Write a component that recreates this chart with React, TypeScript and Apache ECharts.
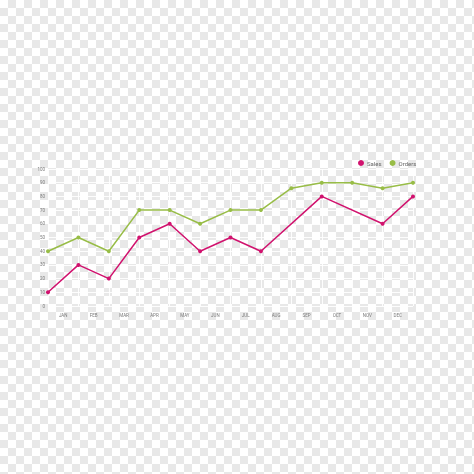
import React, { useEffect, useRef } from 'react';
import * as echarts from 'echarts';

const MONTHS = ['JAN', 'FEB', 'MAR', 'APR', 'MAY', 'JUN', 'JUL', 'AUG', 'SEP', 'OCT', 'NOV', 'DEC'];
// points sit on the month boundaries, labels sit in the months
const POINTS = ['Jan 1', 'Feb 1', 'Mar 1', 'Apr 1', 'May 1', 'Jun 1', 'Jul 1', 'Aug 1', 'Sep 1', 'Oct 1', 'Nov 1', 'Dec 1', 'Dec 31'];
const SALES = [10, 30, 20, 50, 60, 40, 50, 40, null, 80, null, 60, 80];
const ORDERS = [40, 50, 40, 70, 70, 60, 70, 70, 86, 90, 90, 86, 90];

const PINK = '#d1126e';
const GREEN = '#98bd47';
const TEXT = '#7a7a7a';
const GRID_LINE = 'rgba(255,255,255,0.9)';

const App = (): JSX.Element => {
  const divEL = useRef(null);

  useEffect(() => {
    const instance = echarts.init(divEL.current as any, null, { renderer: 'svg' });

    const option: echarts.EChartsOption = {
      animation: false,
      textStyle: { fontFamily: 'Roboto, sans-serif' },
      color: [PINK, GREEN],
      legend: {
        left: 353,
        top: 155,
        icon: 'circle',
        itemWidth: 6,
        itemHeight: 6,
        itemGap: 8,
        textStyle: { color: '#666', fontSize: 6, padding: [0, 0, 0, -2] },
        data: ['Sales', 'Orders'],
      },
      grid: {
        left: 48,
        right: 61,
        top: 169,
        bottom: 168,
      },
      xAxis: [
        {
          type: 'category',
          data: MONTHS,
          boundaryGap: true,
          axisLine: { show: false },
          axisTick: { show: false },
          axisLabel: { color: TEXT, fontSize: 4.5, margin: 7 },
          splitLine: { show: true, lineStyle: { color: GRID_LINE, width: 1 } },
        },
        {
          type: 'category',
          data: POINTS,
          boundaryGap: false,
          show: false,
        },
      ],
      yAxis: {
        type: 'value',
        min: 0,
        max: 100,
        interval: 10,
        axisLine: { show: false },
        axisTick: { show: false },
        axisLabel: { color: TEXT, fontSize: 4.5, margin: 3 },
        splitLine: { lineStyle: { color: GRID_LINE, width: 1 } },
      },
      series: [
        {
          name: 'Sales',
          type: 'line',
          xAxisIndex: 1,
          data: SALES,
          connectNulls: true,
          symbol: 'circle',
          symbolSize: 4,
          lineStyle: { width: 1.5, color: PINK },
          itemStyle: { color: PINK },
        },
        {
          name: 'Orders',
          type: 'line',
          xAxisIndex: 1,
          data: ORDERS,
          symbol: 'circle',
          symbolSize: 4,
          lineStyle: { width: 1.5, color: GREEN },
          itemStyle: { color: GREEN },
        },
      ],
    };

    instance.setOption(option);

    return () => {
      instance.dispose();
    };
  }, []);

  return (
    <div
      style={{
        position: 'fixed',
        left: 0,
        top: 0,
        width: 474,
        height: 474,
        background: 'repeating-conic-gradient(#e8e8e8 0% 25%, #ffffff 0% 50%) 0 0 / 16px 16px',
      }}
    >
      <div ref={divEL} style={{ width: 474, height: 474 }}></div>
    </div>
  );
};

export default App;
